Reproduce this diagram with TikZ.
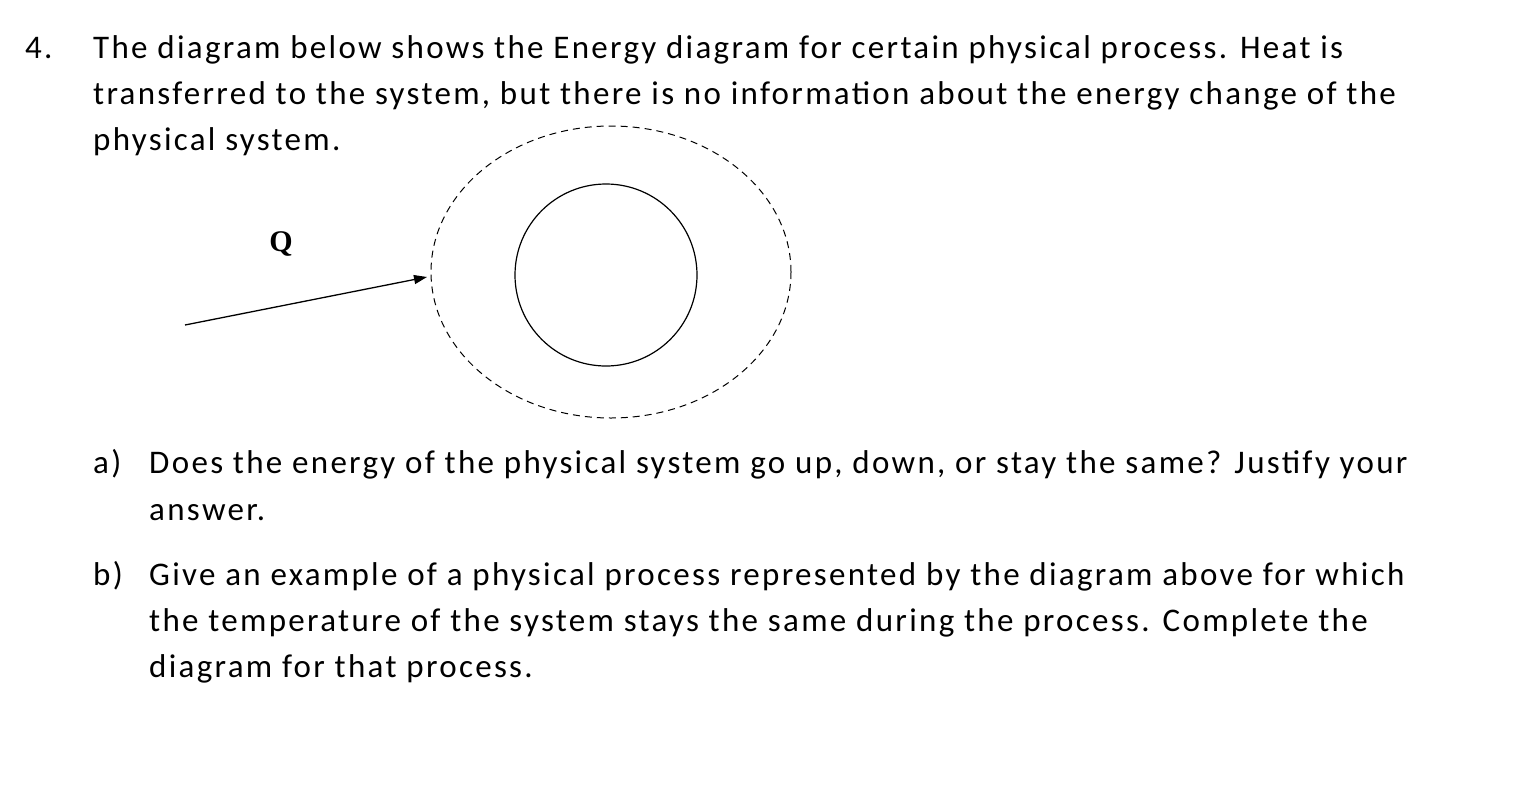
\documentclass[tikz,border=0pt]{standalone}
\usepackage{fontspec}
\setmainfont[LetterSpace=7]{Carlito}
\newfontfamily\qfont{Liberation Serif}
\usetikzlibrary{arrows.meta}
\begin{document}
\begin{tikzpicture}[x=1pt,y=-1pt,
  txt/.style={anchor=base west,inner sep=0pt,font=\fontsize{33}{46}\selectfont},
  line/.style={line width=1.3pt}]
\useasboundingbox (0,0) rectangle (1532,788);
\node[txt] (n4) at (25,58) {4.};
\node[txt] (l1) at (93,58) {The diagram below shows the Energy diagram for certain physical process. Heat is};
\node[txt] (l2) at (93,104) {transferred to the system, but there is no information about the energy change of the};
\node[txt] (l3) at (93,150) {physical system.};
\node[txt] (a1) at (93,473) {a)};
\node[txt] (a2) at (149,473) {Does the energy of the physical system go up, down, or stay the same? Justify your};
\node[txt] (a3) at (149,520) {answer.};
\node[txt] (b1) at (93,585) {b)};
\node[txt] (b2) at (149,585) {Give an example of a physical process represented by the diagram above for which};
\node[txt] (b3) at (149,631) {the temperature of the system stays the same during the process. Complete the};
\node[txt] (b4) at (149,677) {diagram for that process.};
\node[font=\qfont\bfseries\fontsize{30}{30}\selectfont] (q) at (281,244) {Q};
\draw[line width=1pt,dash pattern=on 7pt off 5pt] (611,272) ellipse [x radius=180, y radius=146];
\node[draw,circle,line width=1.2pt,minimum size=182pt,inner sep=0pt] (sys) at (606,275) {};
\coordinate (qs) at (185,325);
\coordinate (qe) at (427,277);
\draw[line,-{Triangle[length=13pt,width=9pt]}] (qs) -- (qe);
\end{tikzpicture}
\end{document}
